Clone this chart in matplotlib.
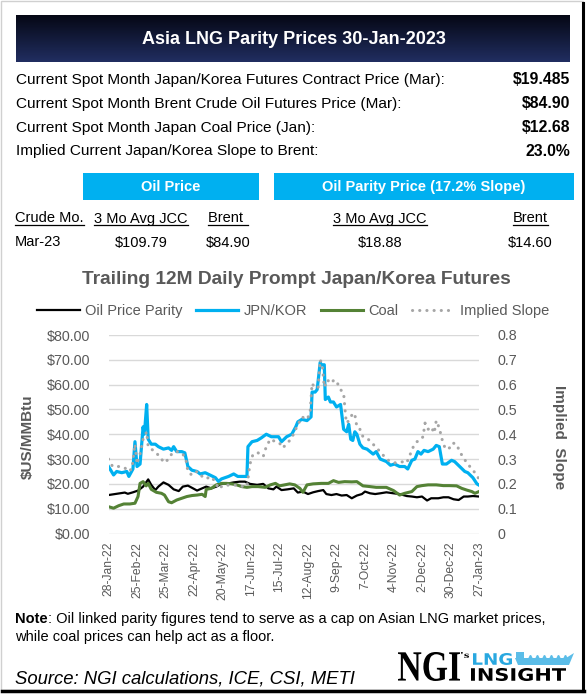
import numpy as np
import matplotlib
matplotlib.use("Agg")
import matplotlib.pyplot as plt
import matplotlib.dates as mdates
from matplotlib.lines import Line2D
from matplotlib.patches import Rectangle, Polygon, PathPatch, Circle
from matplotlib.textpath import TextPath
from matplotlib.font_manager import FontProperties
from matplotlib.transforms import Affine2D
from matplotlib.ticker import FuncFormatter, MultipleLocator

plt.rcParams['font.family'] = ['Liberation Sans', 'DejaVu Sans']

W, H = 587, 695
GREY_TXT = '#595959'
BLUE = '#00B0F0'
GREEN = '#548235'
LOGO_BLUE = '#29A8E0'

# summary table
title = 'Asia LNG Parity Prices 30-Jan-2023'
info_labels = ['Current Spot Month Japan/Korea Futures Contract Price (Mar):',
               'Current Spot Month Brent Crude Oil Futures Price (Mar):',
               'Current Spot Month Japan Coal Price (Jan):',
               'Implied Current Japan/Korea Slope to Brent:']
info_values = ['$19.485', '$84.90', '$12.68', '23.0%']
col_headers = ['Crude Mo.', '3 Mo Avg JCC', 'Brent ', '3 Mo Avg JCC', 'Brent']
row_values = ['Mar-23', '$109.79', '$84.90', '$18.88', '$14.60']

# series (days since 28-Jan-22)
jk_day = [0, 5, 8, 13, 18, 20, 24, 26, 28, 31, 34, 35, 36, 37.5, 39, 42, 46, 49, 54, 59,
          62, 64, 67, 72, 75, 78, 82, 87, 90, 95, 100, 105, 108, 111, 118, 123, 127, 136,
          137, 141, 146, 150, 155, 160, 167, 170, 175, 180, 184, 186, 190, 195, 199, 200,
          203, 205, 208, 209, 212, 213, 216, 218, 221, 224, 228, 231, 234, 236, 238, 240,
          242, 244, 247, 250, 254, 257, 260, 263, 267, 270, 273, 277, 281, 286, 291, 294,
          298, 301, 304, 307, 310, 314, 319, 322, 325, 328, 332, 337, 340, 345, 350, 353,
          358, 362, 364]
jk_val = [27, 23.6, 25, 24.5, 25, 23, 26, 37, 27, 28, 43, 40, 44, 52, 38, 36, 36, 35, 34, 34.5,
          33.5, 35, 33, 33, 32.5, 27, 25.5, 25, 24, 24.5, 23.5, 22.5, 21, 22, 23, 24, 23, 23,
          35, 37, 37.5, 38.5, 40, 39, 39, 37, 39, 40, 43, 45, 46, 45.5, 47, 57,
          57, 58, 69, 68, 68, 54, 55, 53, 53, 51, 52, 42, 41, 44, 38, 37.5,
          41, 40, 36, 34.5, 34, 33, 32, 33, 30, 29.5, 29, 27.5, 28, 27, 27, 26,
          29.5, 30, 33, 32, 33.5, 33, 34, 35.5, 35, 28, 28, 29.5, 29, 27, 25, 24.5,
          22.5, 20, 19.5]

slope_day = [0, 4, 10, 16, 19, 23, 26, 28, 31, 34, 37.5, 39, 42, 46, 52, 55, 59, 62, 65, 69,
             73, 76, 78, 82, 87, 92, 96, 100, 105, 108, 113, 118, 123, 127, 131, 136, 139, 142,
             147, 152, 155, 159, 164, 168, 171, 175, 180, 185, 190, 195, 198, 200, 203, 206,
             208, 210, 212, 215, 218, 222, 225, 228, 231, 233, 234, 237, 240, 242, 244, 247,
             250, 255, 258, 263, 267, 271, 275, 280, 285, 290, 293, 297, 300, 303, 306, 309,
             311, 314, 317, 320, 322, 325, 328, 331, 335, 338, 342, 345, 348, 352, 355, 360, 364]
slope_val = [0.30, 0.27, 0.27, 0.265, 0.25, 0.26, 0.36, 0.28, 0.32, 0.38, 0.41, 0.35, 0.34, 0.33,
             0.30, 0.285, 0.30, 0.32, 0.33, 0.33, 0.32, 0.30, 0.25, 0.235, 0.25, 0.23, 0.22, 0.23,
             0.21, 0.18, 0.195, 0.195, 0.195, 0.195, 0.19, 0.19, 0.28, 0.32, 0.325, 0.31, 0.35,
             0.38, 0.37, 0.365, 0.345, 0.36, 0.385, 0.43, 0.47, 0.46, 0.485, 0.605, 0.585, 0.59,
             0.70, 0.68, 0.59, 0.62, 0.605, 0.62, 0.605, 0.58, 0.565, 0.47, 0.445, 0.46, 0.485,
             0.48, 0.43, 0.42, 0.39, 0.38, 0.37, 0.345, 0.33, 0.31, 0.295, 0.285, 0.285, 0.29,
             0.285, 0.325, 0.355, 0.37, 0.375, 0.39, 0.445, 0.42, 0.43, 0.405, 0.455, 0.425,
             0.375, 0.34, 0.345, 0.365, 0.36, 0.33, 0.31, 0.285, 0.27, 0.245, 0.22]

oil_day = [0, 8, 16, 19, 24, 29, 34, 39, 42, 46, 49, 54, 59, 64, 69, 73, 78, 83, 87, 92, 96,
           101, 106, 111, 118, 123, 129, 134, 139, 146, 152, 157, 162, 165, 170, 176, 182, 186,
           191, 196, 201, 206, 211, 214, 219, 224, 229, 234, 239, 244, 249, 252, 257, 262, 267,
           273, 280, 286, 293, 298, 303, 308, 313, 317, 324, 329, 334, 339, 344, 349, 353, 358, 364]
oil_val = [15.5, 16, 16.5, 16, 16.6, 17.3, 18.9, 21.8, 19.6, 17.5, 18.9, 20.6, 19.6, 17.8, 17.1,
           18.9, 19.3, 18.2, 17.3, 18.2, 18.9, 18.2, 18.9, 20, 20.2, 20.6, 20.9, 20.9, 20, 19.6,
           20, 18.2, 17.8, 18.9, 17.5, 17.8, 18.2, 16.5, 16.9, 15.9, 16.6, 17.1, 17.5, 15.9, 15.5,
           15.9, 15.3, 15.5, 14.2, 15.3, 15.9, 16.9, 16.2, 15.9, 16.2, 16.6, 16.2, 15.9, 15.1,
           14.9, 14.6, 14.9, 13.3, 14.2, 14.2, 14.6, 14.6, 13.8, 13.5, 14.9, 14.9, 15.1, 14.9]

coal_day = [0, 5, 10, 15, 21, 26, 29, 31, 34, 37, 39, 42, 47, 52, 55, 59, 62, 67, 72, 77, 82,
            87, 92, 95, 96, 101, 106, 111, 116, 121, 126, 131, 136, 141, 147, 154, 159, 164,
            168, 173, 178, 183, 188, 191, 195, 201, 209, 216, 221, 226, 232, 239, 244, 250,
            257, 263, 273, 280, 286, 291, 298, 303, 308, 314, 322, 329, 335, 342, 347, 352,
            357, 360, 364]
coal_val = [10.8, 10.2, 11.2, 11.9, 11.9, 12.2, 14.9, 20.2, 20.9, 19.2, 20.2, 17.8, 16.6, 16.2,
            15.5, 12.8, 12.4, 13.5, 14.2, 14.9, 15.3, 15.5, 15.8, 14.9, 17.8, 18.2, 19.6, 20.2,
            20.2, 20, 19.6, 18.9, 18.6, 18.9, 18.9, 18.6, 19.6, 20.2, 19.2, 19.6, 20, 19.6, 18.2,
            16.6, 19.6, 20, 20.2, 20.2, 21.3, 20.6, 20.9, 20.8, 20.9, 19.2, 18.9, 18.6, 18.6,
            17.3, 15.5, 16.2, 16.9, 18.9, 19.3, 19.6, 19.6, 19.3, 19.3, 19.2, 18.2, 17.5, 16.9,
            16.2, 16.9]

start = np.datetime64('2022-01-28')


def to_dates(days):
    return start + (np.array(days) * 24).astype('timedelta64[h]')


def fx(x):
    return x / W


def fy(y):
    return 1 - y / H


def boxed_text(fig, s, x0, x1, ytop, ybot, color, family, weight='bold'):
    # squeeze a text path into a pixel box (logo lettering is condensed)
    path = TextPath((0, 0), s, size=1, prop=FontProperties(family=family, weight=weight))
    ext = path.get_extents()
    sx = (x1 - x0) / ext.width
    sy = (ybot - ytop) / ext.height
    tr = (Affine2D().translate(-ext.x0, -ext.y0).scale(sx / W, sy / H)
          .translate(fx(x0), fy(ybot)) + fig.transFigure)
    fig.add_artist(PathPatch(path, transform=tr, facecolor=color, edgecolor='none'))


fig = plt.figure(figsize=(W / 100, H / 100), dpi=100)

# frame
fig.add_artist(Rectangle((fx(1), fy(690)), fx(582), 689 / H, transform=fig.transFigure,
                         facecolor='none', edgecolor='#d0d0d0', lw=1))
fig.add_artist(Line2D([fx(583), fx(583)], [fy(3), fy(691)], color='black', lw=2.2))
fig.add_artist(Line2D([fx(2), fx(584)], [fy(690.5), fy(690.5)], color='black', lw=2.5))

# header banner with gradient
hax = fig.add_axes([fx(16), fy(62), fx(554), 47 / H])
grad = np.linspace(0, 1, 100)[:, None]
top_c = np.array([0.02, 0.03, 0.08])
bot_c = np.array([0.13, 0.18, 0.38])
img = top_c + (bot_c - top_c) * grad[:, :, None]
hax.imshow(np.repeat(img, 2, axis=1), aspect='auto', extent=[0, 1, 0, 1])
hax.set_axis_off()
fig.text(fx(294), fy(40), title, color='white', fontsize=13, fontweight='bold',
         ha='center', va='center')

# info rows
for lab, val, yb in zip(info_labels, info_values, [84, 108, 132, 155.5]):
    fig.text(fx(16), fy(yb), lab, fontsize=11.1, ha='left', va='baseline')
    fig.text(fx(570), fy(yb), val, fontsize=11.3, fontweight='bold', ha='right', va='baseline')

# blue header boxes
for x0, x1, lab in [(83, 259, 'Oil Price'), (274, 574, 'Oil Parity Price (17.2% Slope)')]:
    fig.add_artist(Rectangle((fx(x0), fy(200)), fx(x1 - x0), 27 / H, transform=fig.transFigure,
                             facecolor=BLUE, edgecolor='none'))
    fig.text(fx((x0 + x1) / 2), fy(187), lab, color='white', fontsize=10.5, fontweight='bold',
             ha='center', va='center')

col_x = [15, 141, 228, 380, 530]
col_ha = ['left', 'center', 'center', 'center', 'center']
hdr_texts = []
for x, ha, lab in zip(col_x, col_ha, col_headers):
    hdr_texts.append(fig.text(fx(x), fy(222.5), lab, fontsize=10.5, ha=ha, va='baseline'))
for x, ha, val in zip(col_x, col_ha, row_values):
    fig.text(fx(x), fy(246.5), val, fontsize=10.5, ha=ha, va='baseline')

fig.canvas.draw()
for t in hdr_texts:
    bb = t.get_window_extent()
    fig.add_artist(Line2D([bb.x0 / W, bb.x1 / W], [fy(224.8), fy(224.8)], color='black', lw=0.9))

# chart
ax = fig.add_axes([fx(108.5), fy(533.5), fx(370.5), 198.5 / H])
ax2 = ax.twinx()
ln_oil, = ax.plot(to_dates(oil_day), oil_val, color='black', lw=1.6, zorder=3)
ln_jk, = ax.plot(to_dates(jk_day), jk_val, color=BLUE, lw=2.3, zorder=4)
ln_coal, = ax.plot(to_dates(coal_day), coal_val, color=GREEN, lw=2.2, zorder=3)
ln_sl, = ax2.plot(to_dates(slope_day), slope_val, color='#A6A6A6', lw=2.2,
                  linestyle=(0, (0.05, 2.3)), dash_capstyle='round', zorder=5)

ax.set_ylim(0, 80)
ax2.set_ylim(0, 0.8)
ax.set_xlim(start, start + np.timedelta64(364, 'D'))
ax.yaxis.set_major_locator(MultipleLocator(10))
ax2.yaxis.set_major_locator(MultipleLocator(0.1))
ax.yaxis.set_major_formatter(FuncFormatter(lambda v, p: f'${v:.2f}'))
ax2.yaxis.set_major_formatter(FuncFormatter(lambda v, p: '0' if abs(v) < 1e-9 else f'{v:.1f}'))
ticks = [start + np.timedelta64(28 * i, 'D') for i in range(14)]
ax.set_xticks(ticks)
ax.xaxis.set_major_formatter(mdates.DateFormatter('%-d-%b-%y'))
ax.grid(axis='y', color='#D9D9D9', lw=1)
ax.set_axisbelow(True)
for a in (ax, ax2):
    for s in a.spines.values():
        s.set_visible(False)
    a.tick_params(length=0, colors=GREY_TXT, labelsize=10.3)
ax.tick_params(axis='y', pad=13)
ax2.tick_params(axis='y', pad=13)
ax.tick_params(axis='x', labelsize=8.7, pad=6)
for lab in ax.get_xticklabels():
    lab.set_rotation(90)
ax.patch.set_visible(False)

fig.text(fx(28), fy(437), '$US/MMBtu', rotation=90, fontsize=11, fontweight='bold',
         color=GREY_TXT, ha='center', va='center')
fig.text(fx(559), fy(437), 'Implied  Slope', rotation=-90, fontsize=11, fontweight='bold',
         color=GREY_TXT, ha='center', va='center')

fig.text(fx(296), fy(279), 'Trailing 12M Daily Prompt Japan/Korea Futures', fontsize=13.8,
         fontweight='bold', color=GREY_TXT, ha='center', va='center')

fig.legend([ln_oil, ln_jk, ln_coal, ln_sl], ['Oil Price Parity', 'JPN/KOR', 'Coal', 'Implied Slope'],
           loc='center', bbox_to_anchor=(fx(293), fy(311)), ncol=4, frameon=False,
           fontsize=10.5, labelcolor=GREY_TXT, handlelength=2.9, handletextpad=0.35,
           columnspacing=0.95, borderpad=0, borderaxespad=0)

# note and source
note1 = fig.text(fx(15), fy(623), 'Note', fontsize=10.5, fontweight='bold', ha='left', va='baseline')
fig.canvas.draw()
nb = note1.get_window_extent()
fig.text(nb.x1 / W, fy(623), ': Oil linked parity figures tend to serve as a cap on Asian LNG market prices,',
         fontsize=10.5, ha='left', va='baseline')
fig.text(fx(15), fy(641), 'while coal prices can help act as a floor.', fontsize=10.5,
         ha='left', va='baseline')
fig.text(fx(15), fy(683), 'Source: NGI calculations, ICE, CSI, METI', fontsize=13.3,
         style='italic', ha='left', va='baseline')

# logo
boxed_text(fig, 'NGI', 398, 460, 652, 681, 'black', 'Liberation Serif')
boxed_text(fig, "'s", 461, 469, 652, 658, 'black', 'Liberation Serif')
boxed_text(fig, 'LNG', 473, 512, 653, 665, LOGO_BLUE, 'DejaVu Sans')
boxed_text(fig, 'INSIGHT', 471, 566, 668, 681, 'black', 'DejaVu Sans')
hull = [(515, 658), (566, 658), (574, 653), (569, 665), (518, 665)]
fig.add_artist(Polygon([(fx(x), fy(y)) for x, y in hull], closed=True, transform=fig.transFigure,
                       facecolor='#5BBDE8', edgecolor='none'))
fig.add_artist(Rectangle((fx(516), fy(658)), fx(8), 6 / H, transform=fig.transFigure,
                         facecolor='#5BBDE8', edgecolor='none'))
for px in range(530, 566, 7):
    fig.add_artist(Line2D([fx(px)], [fy(656.5)], marker='^', ms=3, color='#5BBDE8', lw=0))

fig.savefig('out.png', dpi=100)
